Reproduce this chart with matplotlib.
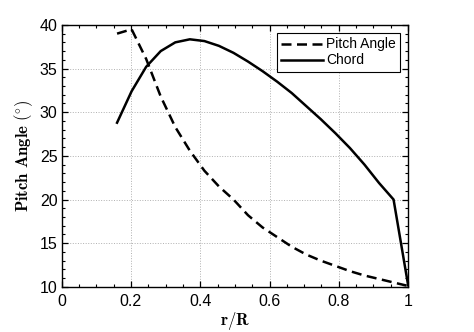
import numpy as np
import matplotlib
matplotlib.use("Agg")
import matplotlib.pyplot as plt
from matplotlib.ticker import MultipleLocator

plt.rcParams['font.family'] = ['Liberation Sans', 'DejaVu Sans']
plt.rcParams['mathtext.fontset'] = 'cm'

# radial stations r/R and blade distributions
r_R = [0.160, 0.202, 0.244, 0.286, 0.328, 0.370, 0.412, 0.454, 0.496, 0.538, 0.580,
       0.622, 0.664, 0.706, 0.748, 0.790, 0.832, 0.874, 0.916, 0.958, 1.000]
pitch_angle = [39.0, 39.5, 36.1, 31.8, 28.3, 25.6, 23.3, 21.5, 20.0, 18.2, 16.8,
               15.7, 14.6, 13.7, 13.0, 12.4, 11.8, 11.3, 10.9, 10.5, 10.1]
chord = [28.8, 32.4, 35.2, 37.0, 38.0, 38.35, 38.15, 37.6, 36.8, 35.8, 34.7,
         33.5, 32.2, 30.7, 29.2, 27.6, 25.9, 24.0, 21.9, 20.0, 10.2]

xticks = [0, 0.2, 0.4, 0.6, 0.8, 1]
xticklabels = ['0', '0.2', '0.4', '0.6', '0.8', '1']
yticks = [10, 15, 20, 25, 30, 35, 40]

fig = plt.figure(figsize=(4.74, 3.32), dpi=100)
ax = fig.add_axes([0.130, 0.136, 0.731, 0.789])

ax.plot(r_R, pitch_angle, color='black', lw=1.8, ls=(0, (4, 2.2)), label='Pitch Angle')
ax.plot(r_R, chord, color='black', lw=1.8, label='Chord')

ax.set_xlim(0, 1)
ax.set_ylim(10, 40)
ax.set_xticks(xticks)
ax.set_xticklabels(xticklabels)
ax.set_yticks(yticks)
ax.xaxis.set_minor_locator(MultipleLocator(0.05))
ax.yaxis.set_minor_locator(MultipleLocator(1))
ax.tick_params(which='both', direction='in', top=True, right=True, labelsize=11.5)
ax.tick_params(axis='x', pad=5)
ax.tick_params(axis='y', pad=3)
ax.tick_params(which='major', length=4, width=0.9)
ax.tick_params(which='minor', length=2.5, width=0.8)
for s in ax.spines.values():
    s.set_linewidth(1.0)

ax.grid(True, which='major', ls=':', color='#b0b0b0', lw=0.7)

ax.set_xlabel(r'$\mathbf{r/R}$', fontsize=12, labelpad=1)
ax.set_ylabel(r'$\mathbf{Pitch\ Angle}\ ({}^{\circ})$', fontsize=12, labelpad=3)

leg = ax.legend(loc='upper right', fontsize=10, fancybox=False, framealpha=1,
                edgecolor='black', handlelength=3.0, handletextpad=0.2,
                borderpad=0.3, labelspacing=0.15, borderaxespad=0.6)
leg.get_frame().set_linewidth(0.8)

fig.savefig('out.png', dpi=100)
